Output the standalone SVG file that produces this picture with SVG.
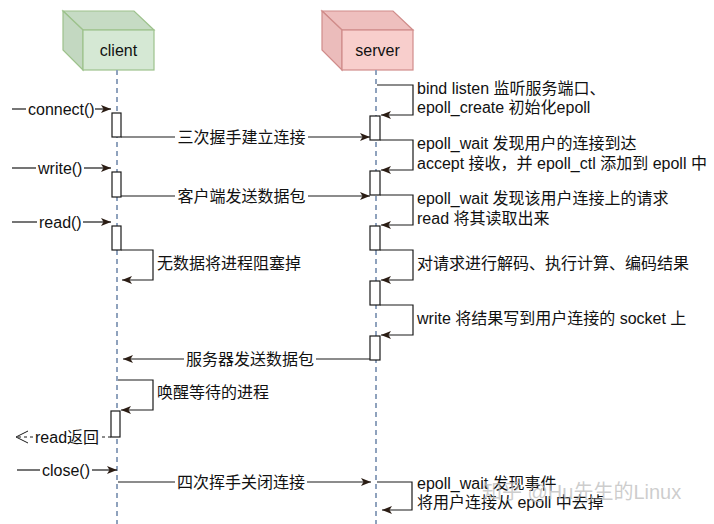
<svg xmlns="http://www.w3.org/2000/svg" width="714" height="524" viewBox="0 0 714 524">
<style>
text{font-family:"Liberation Sans","Noto Sans CJK SC",sans-serif;font-size:16px;fill:#111}
.mid{text-anchor:middle}
.ln{fill:none;stroke:#1a1a1a;stroke-width:1.2}
.life{fill:none;stroke:#8fa2bd;stroke-width:2;stroke-dasharray:5 4}
.act{fill:#fff;stroke:#1a1a1a;stroke-width:1.2}
.ret{fill:none;stroke:#1a1a1a;stroke-width:1;stroke-dasharray:3 3}
.wm{fill:#bdbdbd;fill-opacity:0.75;font-size:20px}
</style>
<defs>
<marker id="arr" viewBox="0 0 10 8" refX="10" refY="4" markerWidth="10" markerHeight="8" markerUnits="userSpaceOnUse" orient="auto">
<path d="M0,0 L10,4 L0,8 L2.5,4 z" fill="#2b1d14"/>
</marker>
</defs>
<rect width="714" height="524" fill="#fff"/>

<g id="client">
<polygon points="63,11 134,11 154,30 83,30" fill="#c6dbc4" stroke="#9dc28c" stroke-width="1.2"/>
<polygon points="63,11 83,30 83,70 63,50" fill="#c3d8c1" stroke="#9dc28c" stroke-width="1.2"/>
<rect x="83" y="30" width="71" height="40" fill="#d5e8d4" stroke="#9dc28c" stroke-width="1.2"/>
<text x="118.5" y="56" class="mid">client</text>
</g>

<g id="server">
<polygon points="322,11 393,11 413,30 342,30" fill="#eebfbe" stroke="#d08c8a" stroke-width="1.2"/>
<polygon points="322,11 342,30 342,70 322,50" fill="#ebbcbb" stroke="#d08c8a" stroke-width="1.2"/>
<rect x="342" y="30" width="71" height="40" fill="#f8cecc" stroke="#d08c8a" stroke-width="1.2"/>
<text x="377.5" y="56" class="mid">server</text>
</g>

<g id="connectors">
<line class="life" x1="117" y1="70" x2="117" y2="524"/>
<line class="life" x1="376" y1="70" x2="376" y2="524"/>

<!-- connect -->
<line class="ln" x1="12" y1="109" x2="26" y2="109"/>
<line class="ln" x1="95" y1="109" x2="111" y2="109" marker-end="url(#arr)"/>
<!-- server loop 1 -->
<polyline class="ln" points="377,85 413,85 413,115 381,115" marker-end="url(#arr)"/>
<!-- 三次握手 -->
<line class="ln" x1="121" y1="137" x2="175" y2="137"/>
<line class="ln" x1="308" y1="137" x2="370" y2="137" marker-end="url(#arr)"/>
<!-- server loop 2 -->
<polyline class="ln" points="380,140 413,140 413,170 381,170" marker-end="url(#arr)"/>
<!-- write -->
<line class="ln" x1="12" y1="168" x2="36" y2="168"/>
<line class="ln" x1="84" y1="168" x2="111" y2="168" marker-end="url(#arr)"/>
<!-- 客户端发送数据包 -->
<line class="ln" x1="121" y1="196" x2="175" y2="196"/>
<line class="ln" x1="308" y1="196" x2="370" y2="196" marker-end="url(#arr)"/>
<!-- server loop 3 -->
<polyline class="ln" points="380,195 413,195 413,225 381,225" marker-end="url(#arr)"/>
<!-- read -->
<line class="ln" x1="12" y1="222" x2="37" y2="222"/>
<line class="ln" x1="83" y1="222" x2="111" y2="222" marker-end="url(#arr)"/>
<!-- client loop 1 -->
<polyline class="ln" points="121,250 153,250 153,280 122,280" marker-end="url(#arr)"/>
<!-- server loop 4 -->
<polyline class="ln" points="380,250 413,250 413,280 381,280" marker-end="url(#arr)"/>
<!-- server loop 5 -->
<polyline class="ln" points="380,305 413,305 413,335 381,335" marker-end="url(#arr)"/>
<!-- 服务器发送数据包 -->
<line class="ln" x1="370" y1="359" x2="316" y2="359"/>
<line class="ln" x1="184" y1="359" x2="123" y2="359" marker-end="url(#arr)"/>
<!-- client loop 2 -->
<polyline class="ln" points="118,380 153,380 153,410 121,410" marker-end="url(#arr)"/>
<!-- read返回 -->
<line class="ret" x1="111" y1="437" x2="100" y2="437"/>
<line class="ret" x1="33" y1="437" x2="17" y2="437"/>
<polyline points="28,431 16,437 28,443" fill="none" stroke="#1a1a1a" stroke-width="1"/>
<!-- close -->
<line class="ln" x1="17" y1="470" x2="40" y2="470"/>
<line class="ln" x1="92" y1="470" x2="117" y2="470" marker-end="url(#arr)"/>
<!-- 四次挥手 -->
<line class="ln" x1="118" y1="482" x2="175" y2="482"/>
<line class="ln" x1="307" y1="482" x2="371" y2="482" marker-end="url(#arr)"/>
<!-- final server loop -->
<polyline class="ln" points="377,482 412,482 412,510 382,510" marker-end="url(#arr)"/>
</g>

<g id="activations">
<rect class="act" x="112" y="113" width="9" height="24"/>
<rect class="act" x="370" y="116" width="10" height="24"/>
<rect class="act" x="112" y="172" width="9" height="25"/>
<rect class="act" x="370" y="171" width="10" height="24"/>
<rect class="act" x="112" y="226" width="9" height="24"/>
<rect class="act" x="370" y="226" width="10" height="24"/>
<rect class="act" x="370" y="281" width="10" height="24"/>
<rect class="act" x="370" y="336" width="10" height="24"/>
<rect class="act" x="111" y="411" width="9" height="26"/>
</g>

<g id="labels">
<text x="28" y="115">connect()</text>
<text x="241.5" y="143" class="mid">三次握手建立连接</text>
<text x="38" y="174">write()</text>
<text x="241.5" y="202" class="mid">客户端发送数据包</text>
<text x="39" y="228">read()</text>
<text x="157" y="269">无数据将进程阻塞掉</text>
<text x="250" y="365" class="mid">服务器发送数据包</text>
<text x="157" y="398">唤醒等待的进程</text>
<text x="35" y="443">read返回</text>
<text x="42" y="476">close()</text>
<text x="241" y="488" class="mid">四次挥手关闭连接</text>

<text x="417" y="94">bind listen 监听服务端口、</text>
<text x="417" y="113">epoll_create 初始化epoll</text>
<text x="417" y="149">epoll_wait 发现用户的连接到达</text>
<text x="417" y="169">accept 接收，并 epoll_ctl 添加到 epoll 中</text>
<text x="417" y="204">epoll_wait 发现该用户连接上的请求</text>
<text x="417" y="224">read 将其读取出来</text>
<text x="417" y="269">对请求进行解码、执行计算、编码结果</text>
<text x="417" y="324">write 将结果写到用户连接的 socket 上</text>
<text x="417" y="489">epoll_wait 发现事件</text>
<text x="417" y="508">将用户连接从 epoll 中去掉</text>
</g>

<text x="482" y="499" class="wm">知乎 @Hu先生的Linux</text>
</svg>
